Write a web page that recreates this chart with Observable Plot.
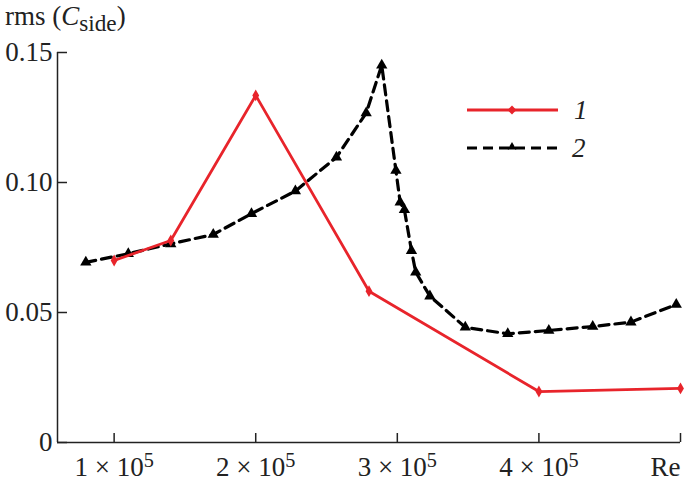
<!DOCTYPE html>
<html><head><meta charset="utf-8">
<script src="https://cdn.jsdelivr.net/npm/d3@7"></script>
<script src="https://cdn.jsdelivr.net/npm/@observablehq/plot@0.6"></script>
<style>
body{margin:0;background:#fff;font-family:"Liberation Serif",serif;color:#222;}
#wrap{position:relative;width:685px;height:484px;}
#title{position:absolute;left:5px;top:0px;font-size:27px;line-height:32px;}
#title sub{font-size:0.86em;vertical-align:-0.25em;line-height:0;}
#legend{position:absolute;left:460px;top:88px;}
</style></head><body>
<div id="wrap">
<div id="chart"></div>
<div id="title">rms (<i>C</i><sub>side</sub>)</div>
<svg id="legend" width="150" height="80" font-family="Liberation Serif, serif"></svg>
</div>
<script>
// Series 1 (red, solid)
const re1 = [1.0e5, 1.4e5, 2.0e5, 2.8e5, 4.0e5, 5.0e5];
const rms1 = [0.0700, 0.0777, 0.1335, 0.0582, 0.0196, 0.0208];
// Series 2 (black, dashed)
const re2 = [0.80e5, 1.10e5, 1.40e5, 1.70e5, 1.97e5, 2.28e5, 2.57e5, 2.78e5, 2.89e5, 2.99e5, 3.02e5, 3.05e5, 3.10e5, 3.13e5, 3.23e5, 3.48e5, 3.78e5, 4.07e5, 4.38e5, 4.65e5, 4.97e5];
const rms2 = [0.0693, 0.0726, 0.0764, 0.0800, 0.0880, 0.0967, 0.1097, 0.1267, 0.1451, 0.1046, 0.0924, 0.0895, 0.0738, 0.0655, 0.0563, 0.0443, 0.0418, 0.0431, 0.0446, 0.0463, 0.0531];
const seriesNames = ["1", "2"];
const xTicks = [1e5, 2e5, 3e5, 4e5];
const xTickLabels = ["1 × 10", "2 × 10", "3 × 10", "4 × 10"];
const xLabel = "Re";
const yTicks = [0, 0.05, 0.10, 0.15];
const yTickLabels = ["0", "0.05", "0.10", "0.15"];

const RED = "#e8242b";
const d1 = re1.map((x, i) => ({x, y: rms1[i]}));
const d2 = re2.map((x, i) => ({x, y: rms2[i]}));

const plot = Plot.plot({
  width: 685, height: 484,
  marginLeft: 57, marginRight: 5, marginTop: 52, marginBottom: 42,
  style: {fontFamily: "Liberation Serif, serif", fontSize: "27px", color: "#222", background: "#fff"},
  x: {domain: [0.6e5, 5.0e5]},
  y: {domain: [0, 0.15]},
  marks: [
    Plot.ruleX([0.6e5], {stroke: "#222", strokeWidth: 1.5}),
    Plot.ruleY([0], {stroke: "#222", strokeWidth: 1.5}),
    Plot.axisY({ticks: yTicks, tickFormat: (d, i) => yTickLabels[yTicks.indexOf(d)], tickSize: -10, tickPadding: 15, label: null, stroke: "#222", strokeWidth: 1.5}),
    Plot.axisX({ticks: xTicks, tickFormat: d => xTickLabels[xTicks.indexOf(d)], tickSize: -9, tickPadding: 23, label: null, stroke: "#222", strokeWidth: 1.5}),
    Plot.axisX({ticks: [5e5], tickFormat: () => xLabel, tickSize: -9, tickPadding: 23, label: null, textAnchor: "end", stroke: "#222", strokeWidth: 1.5}),
    Plot.line(d2, {x: "x", y: "y", stroke: "#000", strokeWidth: 3.2, strokeDasharray: "10,6"}),
    Plot.dot(d2, {x: "x", y: "y", symbol: "triangle", r: 4.2, fill: "#000", stroke: "none"}),
    Plot.line(d1, {x: "x", y: "y", stroke: RED, strokeWidth: 2.8}),
    Plot.dot(d1, {x: "x", y: "y", symbol: "diamond", r: 3.6, fill: RED, stroke: "none"})
  ]
});
document.getElementById("chart").appendChild(plot);

// superscript exponents on x tick labels
d3.select(plot).selectAll('g[aria-label="x-axis tick label"] text').each(function() {
  const t = d3.select(this);
  if (t.text() === xLabel) return;
  t.append("tspan").attr("dy", "-0.45em").attr("font-size", "0.75em").text("5");
});

// legend
const lg = d3.select("#legend");
lg.append("line").attr("x1", 7).attr("x2", 98).attr("y1", 22).attr("y2", 22).attr("stroke", RED).attr("stroke-width", 3);
lg.append("path").attr("d", d3.symbol(d3.symbolDiamond2, 50)()).attr("transform", "translate(52,22)").attr("fill", RED);
lg.append("text").attr("x", 114).attr("y", 31).attr("font-size", 27).attr("font-style", "italic").attr("fill", "#222").text(seriesNames[0]);
lg.append("line").attr("x1", 7).attr("x2", 98).attr("y1", 60).attr("y2", 60).attr("stroke", "#000").attr("stroke-width", 3).attr("stroke-dasharray", "10,6");
lg.append("path").attr("d", d3.symbol(d3.symbolTriangle2, 55)()).attr("transform", "translate(52,59)").attr("fill", "#000");
lg.append("text").attr("x", 112).attr("y", 69).attr("font-size", 27).attr("font-style", "italic").attr("fill", "#222").text(seriesNames[1]);
</script>
</body></html>
